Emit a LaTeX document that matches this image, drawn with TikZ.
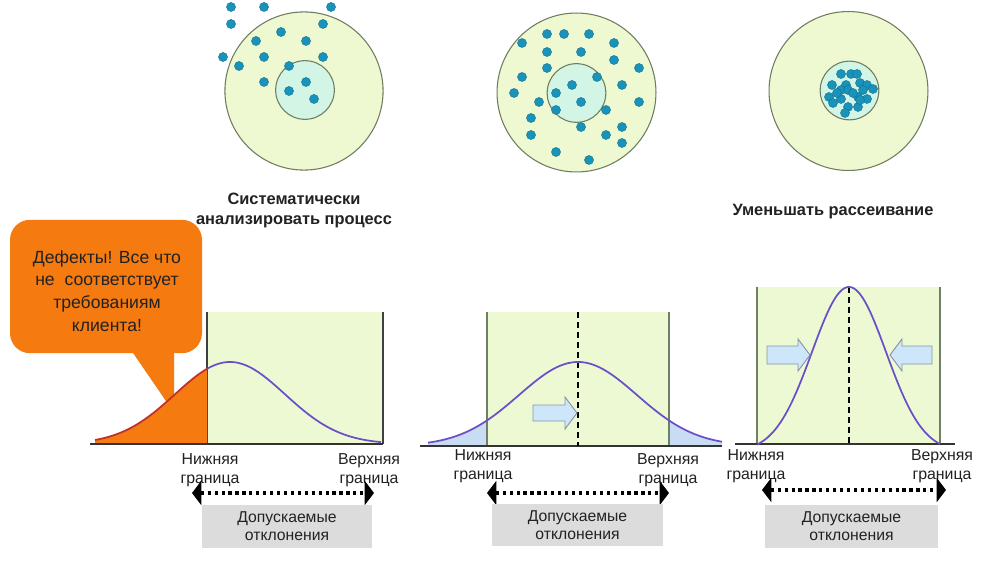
\documentclass[tikz,border=0pt]{standalone}
\usepackage{fontspec}
\setmainfont{Liberation Sans}
\usetikzlibrary{arrows.meta}
\definecolor{outerfill}{HTML}{EEF9D2}
\definecolor{innerfill}{HTML}{D2F5E6}
\definecolor{ringline}{HTML}{6E7D60}
\definecolor{dotfill}{HTML}{1A93BA}
\definecolor{dotline}{HTML}{0F6F8F}
\definecolor{panelfill}{HTML}{EDF9D3}
\definecolor{panelline}{HTML}{6F7F66}
\definecolor{curvecol}{HTML}{6A4FC8}
\definecolor{defectred}{HTML}{C0302A}
\definecolor{callorange}{HTML}{F57A10}
\definecolor{tailblue}{HTML}{C8DDF4}
\definecolor{arrowfill}{HTML}{CDE6FA}
\definecolor{arrowline}{HTML}{8696A6}
\definecolor{boxgrey}{HTML}{DCDCDC}
\definecolor{txt}{HTML}{222222}
\begin{document}
\begin{tikzpicture}[x=0.75pt,y=-0.75pt,
  outer/.style={fill=outerfill,draw=ringline,line width=0.8pt},
  inner/.style={fill=innerfill,draw=ringline,line width=0.8pt},
  dot/.style={fill=dotfill,draw=dotline,line width=0.3pt},
  panel/.style={fill=panelfill,draw=none},
  pline/.style={draw=panelline,line width=0.8pt},
  baseln/.style={draw=black!80,line width=0.9pt},
  curve/.style={draw=curvecol,line width=1.3pt},
  midline/.style={draw=black,line width=1.5pt,dash pattern=on 4.5pt off 3pt},
  barrow/.style={fill=arrowfill,draw=arrowline,line width=0.7pt,line join=miter},
  tol/.style={draw=black,line width=2.4pt,dash pattern=on 2.4pt off 2.8pt,
     {Triangle[length=7pt,width=18pt]}-{Triangle[length=7pt,width=18pt]}},
  lbl/.style={font=\fontsize{11.9}{14.5}\selectfont,text=txt,align=center,inner sep=0pt},
  ttl/.style={font=\fontsize{12.3}{15}\selectfont\bfseries,text=txt,align=center,inner sep=0pt},
  gbox/.style={fill=boxgrey,draw=none,minimum width=128pt,minimum height=32pt,
     font=\fontsize{11.8}{13.5}\selectfont,text=txt,align=center,inner sep=0pt},
]
\path[use as bounding box,fill=white] (0,0) rectangle (1000,563);

% ---------- targets ----------
\draw[outer] (304,91) circle (59.3pt);
\draw[inner] (305,90) circle (22pt);
\foreach \p in {(231,7),(264,7),(331,7),(231,24),(323,24),(281,32),(256,41),(306,41),
  (223,57),(264,57),(323,57),(239,66),(289,66),(264,82),(306,82),(289,91),(314,99)}
  \draw[dot] \p circle (3.4pt);

\draw[outer] (576.5,92.5) circle (59.6pt);
\draw[inner] (576.5,93) circle (22pt);
\foreach \p in {(547,34),(564,34),(589,34),(522,43),(614,43),(547,52),(581,52),(614,60),
  (547,68),(639,68),(522,77),(597,77),(572,85),(622,85),(514,93),(556,93),(539,102),
  (581,102),(639,102),(556,110),(606,110),(531,118),(581,127),(622,127),(531,135),
  (606,135),(622,143),(556,152),(589,160)}
  \draw[dot] \p circle (3.4pt);

\draw[outer] (848.5,91) circle (59.6pt);
\draw[inner] (849.5,90.5) circle (22pt);
\foreach \p in {(841,74),(851,74),(857,74),(832,85),(846,85),(860,83),(867,85),(873,89),
  (841,90),(848,90),(863,90),(829,97),(841,99),(858,97),(867,99),(833,103),(848,107),
  (858,107),(845,113),(860,100),(837,93),(853,93)}
  \draw[dot] \p circle (3.4pt);

% ---------- titles ----------
\node[ttl] (t1) at (294,210) {Систематически\\анализировать процесс};
\node[ttl] (t3) at (833,212) {Уменьшать рассеивание};

% ---------- panel 1 ----------
\fill[panel] (207,312) rectangle (383,444);
\draw[pline,draw=black!75] (207,312) -- (207,444);
\draw[pline,draw=black!75] (383,312) -- (383,444);
% orange defect area + callout
\fill[callorange] (95,444) -- plot[domain=95:207,samples=60,smooth]
   (\x,{444-82*exp(-0.5*((\x-230)/55)^2)}) -- (207,444) -- cycle;
\fill[callorange] (131,350) -- (174,350) -- (174,402) -- (168,404) -- cycle;
\node[fill=callorange,rounded corners=15pt,minimum width=144pt,minimum height=100pt,
  inner sep=0pt] (call) at (106,286.5) {};
\node[font=\fontsize{13.2}{17}\selectfont,text=txt,align=center] (calltxt) at (107,291)
  {Дефекты! Все что\\не\ \ соответствует\\требованиям\\клиента!};
\draw[baseln] (90,444) -- (383,444);
\draw[curve] plot[domain=207:381,samples=80,smooth] (\x,{444-82*exp(-0.5*((\x-230)/55)^2)});
\draw[defectred,line width=1.3pt] plot[domain=95:207,samples=60,smooth]
   (\x,{444-82*exp(-0.5*((\x-230)/55)^2)});

\node[lbl] (lo1) at (210,470) {Нижняя\\граница};
\node[lbl] (hi1) at (369,470) {Верхняя\\граница};
\coordinate (a1) at (192,493);
\coordinate (b1) at (374,493);
\draw[tol] (a1) -- (b1);
\node[gbox] (g1) at (287,526.5) {Допускаемые\\отклонения};

% ---------- panel 2 ----------
\fill[panel] (487,312) rectangle (669,446);
\fill[tailblue] (428,446) -- plot[domain=428:487,samples=40,smooth]
   (\x,{446-84*exp(-0.5*((\x-578)/59)^2)}) -- (487,446) -- cycle;
\fill[tailblue] (669,446) -- plot[domain=669:722,samples=40,smooth]
   (\x,{446-84*exp(-0.5*((\x-578)/59)^2)}) -- (722,446) -- cycle;
\draw[pline] (487,312) -- (487,446);
\draw[pline] (669,312) -- (669,446);
\draw[baseln] (420,446) -- (722,446);
\draw[midline] (578,312) -- (578,446);
\draw[curve] plot[domain=428:722,samples=120,smooth] (\x,{446-84*exp(-0.5*((\x-578)/59)^2)});
\draw[barrow] (533,405) -- (565,405) -- (565,397) -- (577,413) -- (565,429) -- (565,421) -- (533,421) -- cycle;

\node[lbl] (lo2) at (483,466) {Нижняя\\граница};
\node[lbl] (hi2) at (668,470) {Верхняя\\граница};
\coordinate (a2) at (487,493);
\coordinate (b2) at (669,493);
\draw[tol] (a2) -- (b2);
\node[gbox,minimum width=128pt] (g2) at (577.5,525) {Допускаемые\\отклонения};

% ---------- panel 3 ----------
\fill[panel] (757,287) rectangle (940,444);
\draw[pline] (757,287) -- (757,444);
\draw[pline] (940,287) -- (940,444);
\draw[baseln] (735,444) -- (955,444);
\draw[midline] (849,287) -- (849,444);
\draw[curve] plot[domain=757:940,samples=120,smooth]
   (\x,{444-157*(exp(-0.5*((\x-849)/37)^2)-0.049)/0.951});
\draw[barrow] (767,346) -- (798,346) -- (798,339) -- (810,355) -- (798,371) -- (798,364) -- (767,364) -- cycle;
\draw[barrow] (932,346) -- (902,346) -- (902,339) -- (890,355) -- (902,371) -- (902,364) -- (932,364) -- cycle;

\node[lbl] (lo3) at (756,466) {Нижняя\\граница};
\node[lbl] (hi3) at (942,466) {Верхняя\\граница};
\coordinate (a3) at (762,490);
\coordinate (b3) at (946,490);
\draw[tol] (a3) -- (b3);
\node[gbox,minimum width=130pt] (g3) at (851.5,526.5) {Допускаемые\\отклонения};
\end{tikzpicture}
\end{document}
